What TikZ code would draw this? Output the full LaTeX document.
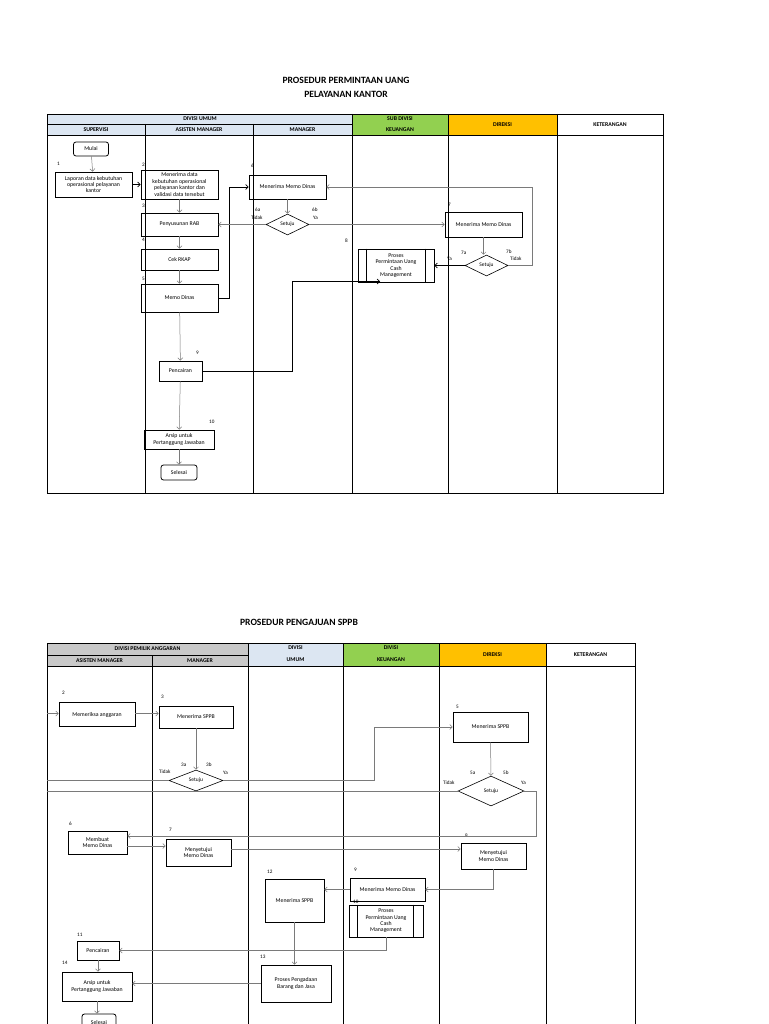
\documentclass[tikz,border=0pt]{standalone}
\usepackage{fontspec}
\setmainfont{Carlito}
\usetikzlibrary{arrows.meta,shapes.geometric}
\definecolor{hdrblue}{HTML}{DCE6F2}
\definecolor{hdrgreen}{HTML}{92D050}
\definecolor{hdrorange}{HTML}{FFC000}
\definecolor{hdrgrey}{HTML}{C9C9C9}
\definecolor{flowgrey}{HTML}{7A7A7A}
\begin{document}
\begin{tikzpicture}[x=1pt,y=-1pt,
  box/.style={draw, line width=0.8pt, align=center, inner sep=0.5pt, font=\fontsize{5.8}{6.4}\selectfont},
  term/.style={box, rounded corners=2.5pt},
  choice/.style={draw, diamond, line width=0.6pt, inner sep=0pt, font=\fontsize{5.5}{6}\selectfont},
  stepno/.style={anchor=west, inner sep=0pt, font=\fontsize{5.2}{5.5}\selectfont},
  hdr/.style={inner sep=0pt, align=center, font=\bfseries\fontsize{5.8}{6.5}\selectfont},
  ttl/.style={inner sep=0pt, font=\bfseries\fontsize{9.6}{11}\selectfont},
  lane/.style={line width=0.9pt},
  flow/.style={draw=flowgrey, line width=0.5pt, -{Straight Barb[length=2.5pt,width=5pt]}},
  bold flow/.style={flow, draw=black, line width=0.7pt},
  loose end/.style={draw=flowgrey, line width=0.5pt}]
\clip (0,0) rectangle (768,1024);
\fill[white] (0,0) rectangle (768,1024);

% ---------- PROSEDUR PERMINTAAN UANG PELAYANAN KANTOR ----------
\node[ttl] (t1a) at (346,80) {PROSEDUR PERMINTAAN UANG};
\node[ttl] (t1b) at (346,94) {PELAYANAN KANTOR};
\fill[hdrblue] (47,114) rectangle (352,135);
\fill[hdrgreen] (352,114) rectangle (448,135);
\fill[hdrorange] (448,114) rectangle (557,135);
\draw[lane] (47,114) rectangle (663,493);
\draw[lane] (47,124) -- (352,124);
\draw[lane] (47,135) -- (663,135);
\foreach \x in {145,253} \draw[lane] (\x,124) -- (\x,493);
\foreach \x in {352,448,557} \draw[lane] (\x,114) -- (\x,493);
\node[hdr] (h1) at (200,119) {DIVISI UMUM};
\node[hdr] (h2) at (96,129.5) {SUPERVISI};
\node[hdr] (h3) at (199,129.5) {ASISTEN MANAGER};
\node[hdr] (h4) at (302.5,129.5) {MANAGER};
\node[hdr] (h5) at (400,119) {SUB DIVISI};
\node[hdr] (h6) at (400,129.5) {KEUANGAN};
\node[hdr] (h7) at (502.5,124.5) {DIREKSI};
\node[hdr] (h8) at (610,124.5) {KETERANGAN};

\node[term, minimum width=35pt, minimum height=14pt] (mulai) at (91,149) {Mulai};
\node[box, minimum width=77pt, minimum height=25pt] (lapor) at (93.5,184.5) {Laporan data kebutuhan\\operasional pelayanan\\kantor};
\node[box, minimum width=77pt, minimum height=29pt] (terima) at (179.5,184.5) {Menerima data\\kebutuhan operasional\\pelayanan kantor dan\\validasi data tersebut};
\node[box, minimum width=77pt, minimum height=23pt] (rab) at (179.5,224.5) {Penyusunan RAB};
\node[box, minimum width=77pt, minimum height=21pt] (rkap) at (179.5,259.5) {Cek RKAP};
\node[box, minimum width=77pt, minimum height=28pt] (memo) at (179.5,298) {Memo Dinas};
\node[box, minimum width=77pt, minimum height=24pt] (mgrmemo) at (287.5,187) {Menerima Memo Dinas};
\node[choice, minimum width=43pt, minimum height=21pt] (mgrok) at (287.5,224.5) {Setuju};
\node[box, minimum width=77pt, minimum height=25pt] (dirmemo) at (483.5,224.5) {Menerima Memo Dinas};
\node[choice, minimum width=43pt, minimum height=21pt] (dirok) at (486.5,265.5) {Setuju};
\node[box, minimum width=76pt, minimum height=33pt] (cash) at (396,265.5) {Proses\\Permintaan Uang\\Cash\\Management};
\draw[line width=0.8pt] ([xshift=9pt]cash.north west) -- ([xshift=9pt]cash.south west);
\draw[line width=0.8pt] ([xshift=-9pt]cash.north east) -- ([xshift=-9pt]cash.south east);
\node[box, minimum width=43pt, minimum height=20pt] (cair) at (180.5,371) {Pencairan};
\node[box, minimum width=70pt, minimum height=19pt] (arsip) at (179,439.5) {Arsip untuk\\Pertanggung Jawaban};
\node[term, minimum width=36pt, minimum height=15pt] (selesai) at (179,472.5) {Selesai};
\coordinate (cashin) at (380,281.5);

\foreach \t/\x/\y [count=\i] in {1/57/164, 2/142/165, 3/142/206, 4/142/240, 5/142/279,
    6/251/166, 6a/255/210, Tidak/251/218, 6b/312/210, Ya/313/218,
    7/448/205, 7a/461/253, Ya/447/259, 7b/506/252, Tidak/510/259,
    8/345/241, 9/196/353, 10/209/422}
  \node[stepno] (la\i) at (\x,\y) {\t};

\draw[flow] (mulai) -- (lapor);
\draw[bold flow] (lapor.east) -- (terima.west);
\draw[flow] (terima) -- (rab);
\draw[flow] (rab) -- (rkap);
\draw[flow] (rkap) -- (memo);
\draw[bold flow] (memo.east) -- ++(11,0) |- (mgrmemo.west);
\draw[flow] (mgrmemo) -- (mgrok);
\draw[flow] (mgrok.west) -- (rab.east);
\draw[flow] (mgrok.east) -- (dirmemo.west);
\draw[flow] (dirmemo.south) -- (dirmemo.south |- dirok.north);
\draw[flow] (dirok.east) -- ++(24,0) |- (mgrmemo.east);
\draw[bold flow] (dirok.west) -- (cash.east);
\draw[flow] (memo) -- (cair);
\draw[bold flow] (cair.east) -- ++(90,0) |- (cashin);
\draw[flow] (cair) -- (arsip);
\draw[flow] (arsip) -- (selesai);

% ---------- PROSEDUR PENGAJUAN SPPB ----------
\node[ttl] (t2) at (299,622) {PROSEDUR PENGAJUAN SPPB};
\fill[hdrgrey] (47,643) rectangle (248,666);
\fill[hdrblue] (248,643) rectangle (343,666);
\fill[hdrgreen] (343,643) rectangle (439,666);
\fill[hdrorange] (439,643) rectangle (546,666);
\draw[lane] (47,1030) -- (47,643) -- (635,643) -- (635,1030);
\draw[lane] (47,655) -- (248,655);
\draw[lane] (47,666) -- (635,666);
\draw[lane] (152,655) -- (152,1030);
\foreach \x in {248,343,439,546} \draw[lane] (\x,643) -- (\x,1030);
\node[hdr] (g1) at (147.5,649) {DIVISI PEMILIK ANGGARAN};
\node[hdr] (g2) at (99.5,660.5) {ASISTEN MANAGER};
\node[hdr] (g3) at (200,660.5) {MANAGER};
\node[hdr] (g4) at (295.5,648) {DIVISI};
\node[hdr] (g5) at (295.5,660) {UMUM};
\node[hdr] (g6) at (391,648) {DIVISI};
\node[hdr] (g7) at (391,660) {KEUANGAN};
\node[hdr] (g8) at (492.5,654.5) {DIREKSI};
\node[hdr] (g9) at (590.5,654.5) {KETERANGAN};

\node[box, minimum width=76pt, minimum height=24pt] (periksa) at (97,714.5) {Memeriksa anggaran};
\node[box, minimum width=74pt, minimum height=22pt] (sppbmgr) at (196,717) {Menerima SPPB};
\node[choice, minimum width=54pt, minimum height=21pt] (mgrok2) at (196,780.5) {Setuju};
\node[box, minimum width=75pt, minimum height=30pt] (sppbdir) at (490.5,727) {Menerima SPPB};
\node[choice, minimum width=66pt, minimum height=30pt] (dirok2) at (491,791) {Setuju};
\node[box, minimum width=59pt, minimum height=23pt] (buatmemo) at (97.5,842.5) {Membuat\\Memo Dinas};
\node[box, minimum width=65pt, minimum height=27pt] (mgrsetuju) at (198.5,852.5) {Menyetujui\\Memo Dinas};
\node[box, minimum width=65pt, minimum height=26pt] (dirsetuju) at (493.5,856) {Menyetujui\\Memo Dinas};
\node[box, minimum width=75pt, minimum height=23pt] (kasmemo) at (387.5,889.5) {Menerima Memo Dinas};
\node[box, minimum width=74pt, minimum height=32pt] (kascash) at (386,921) {Proses\\Permintaan Uang\\Cash\\Management};
\draw[line width=0.8pt] ([xshift=9pt]kascash.north west) -- ([xshift=9pt]kascash.south west);
\draw[line width=0.8pt] ([xshift=-10pt]kascash.north east) -- ([xshift=-10pt]kascash.south east);
\node[box, minimum width=59pt, minimum height=43pt] (umumsppb) at (294.5,900.5) {Menerima SPPB};
\node[box, minimum width=70pt, minimum height=37pt] (pengadaan) at (296,983.5) {Proses Pengadaan\\Barang dan Jasa};
\node[box, minimum width=42pt, minimum height=19pt] (cair2) at (98,950.5) {Pencairan};
\node[box, minimum width=70pt, minimum height=29pt] (arsip2) at (97,986.5) {Arsip untuk\\Pertanggung Jawaban};
\node[term, minimum width=34pt, minimum height=16pt] (selesai2) at (99,1022) {Selesai};
\coordinate (inleft) at (47,713.5);
\coordinate (outleft1) at (47,780.5);
\coordinate (outleft2) at (47,791);

\foreach \t/\x/\y [count=\i] in {2/62/693, 3/161/697, 3a/181/765, 3b/206/765, Tidak/159/772, Ya/223/773,
    5/456/707, 5a/470/773, 5b/503/773, Tidak/443/783, Ya/521/783,
    6/69/824, 7/169/830, 8/465/836, 9/354/870, 10/353/902,
    11/77/935, 12/267/872, 13/260/957, 14/62/963}
  \node[stepno] (lb\i) at (\x,\y) {\t};

\draw[flow] (inleft) -- (periksa.west |- inleft);
\draw[flow] ([yshift=1pt]periksa.east) -- ([yshift=1pt]periksa.east -| sppbmgr.west);
\draw[flow] (sppbmgr) -- (mgrok2);
\draw[flow] (mgrok2.east) -- ++(151,0) |- (sppbdir.west);
\draw[loose end] (mgrok2.west) -- (outleft1);
\draw[flow] (sppbdir) -- (dirok2);
\draw[loose end] (dirok2.west) -- (outleft2);
\draw[flow] (dirok2.east) -- ++(12,0) |- ([yshift=6.5pt]buatmemo.east);
\draw[flow] ([yshift=-3.5pt]buatmemo.east) -- ([yshift=-3.5pt]buatmemo.east -| mgrsetuju.west);
\draw[flow] ([yshift=3.5pt]mgrsetuju.east) -- ([yshift=3.5pt]mgrsetuju.east -| dirsetuju.west);
\draw[flow] (dirsetuju.south) |- (kasmemo.east);
\draw[flow] (kasmemo.west) -- (kasmemo.west -| umumsppb.east);
\draw[flow] (kascash.south) |- (cair2.east);
\draw[flow] (umumsppb.south) -- (umumsppb.south |- pengadaan.north);
\draw[flow] (pengadaan.west) -- (pengadaan.west -| arsip2.east);
\draw[flow] (cair2.south) -- (cair2.south |- arsip2.north);
\draw[flow] (arsip2.south) -- (arsip2.south |- selesai2.north);
\end{tikzpicture}
\end{document}
